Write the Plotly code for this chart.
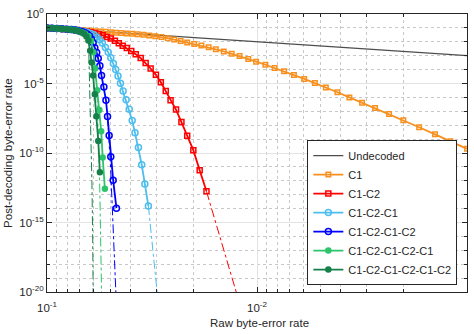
import plotly.graph_objects as go

# ---------------- data ----------------
undecoded_x = [1e-1, 1e-3]
undecoded_y = [1e-1, 1e-3]

c1_x = [0.1, 0.0956, 0.0914, 0.0872, 0.0832, 0.0793, 0.0756, 0.0719, 0.0684, 0.0650,
        0.0617, 0.0586, 0.0555, 0.0525, 0.0497, 0.0469, 0.0443, 0.0418, 0.0393, 0.0370,
        0.0347, 0.0326, 0.0305, 0.0285, 0.0266, 0.0248, 0.0231, 0.0215, 0.0199, 0.0184,
        0.0170, 0.0157, 0.0144, 0.0132, 0.0121, 0.0110, 0.0101, 0.00912, 0.00824, 0.00743,
        0.00667, 0.00596, 0.00530, 0.00470, 0.00414, 0.00363, 0.00316, 0.00274, 0.00235,
        0.00201, 0.00169, 0.00142, 0.00120, 0.00100]
c1_y = [1.00e-1, 9.55e-2, 9.12e-2, 8.71e-2, 8.32e-2, 7.94e-2, 7.59e-2, 7.24e-2, 6.84e-2, 6.46e-2,
        6.17e-2, 5.82e-2, 5.50e-2, 5.19e-2, 4.90e-2, 4.57e-2, 4.32e-2, 4.03e-2, 3.72e-2, 3.47e-2,
        3.16e-2, 2.82e-2, 2.51e-2, 2.19e-2, 1.82e-2, 1.45e-2, 1.15e-2, 8.91e-3, 6.92e-3, 5.37e-3,
        3.98e-3, 2.88e-3, 2.04e-3, 1.38e-3, 9.33e-4, 5.89e-4, 3.72e-4, 2.24e-4, 1.32e-4, 7.59e-5,
        4.07e-5, 2.14e-5, 1.07e-5, 5.13e-6, 2.34e-6, 1.00e-6, 4.17e-7, 1.70e-7, 6.31e-8,
        2.24e-8, 7.08e-9, 2.19e-9, 7.08e-10, 2.00e-10]

c1c2_x = [0.1, 0.0957, 0.0916, 0.0877, 0.0839, 0.0804, 0.0769, 0.0736, 0.0705, 0.0675,
          0.0646, 0.0618, 0.0592, 0.0566, 0.0542, 0.0519, 0.0497, 0.0475, 0.0455, 0.0436,
          0.0417, 0.0397, 0.0378, 0.0358, 0.0339, 0.0321, 0.0303, 0.0287, 0.0272, 0.0258,
          0.0243, 0.0229, 0.0215, 0.0201, 0.01875, 0.0174]
c1c2_y = [9.92e-2, 9.60e-2, 9.14e-2, 8.77e-2, 8.43e-2, 8.03e-2, 7.64e-2, 7.05e-2, 6.50e-2, 5.99e-2,
          5.48e-2, 4.93e-2, 4.33e-2, 3.62e-2, 2.92e-2, 2.25e-2, 1.71e-2, 1.18e-2, 7.96e-3, 5.30e-3,
          3.53e-3, 2.17e-3, 1.27e-3, 6.71e-4, 3.03e-4, 1.20e-4, 4.22e-5, 1.22e-5, 2.83e-6, 6.34e-7,
          1.33e-7, 1.68e-8, 1.73e-9, 1.60e-10, 5.79e-12, 1.75e-13]
c1c2_ext_x = [0.0174, 0.0161, 0.0148, 0.01365, 0.01256]
c1c2_ext_y = [1.75e-13, 3.0e-15, 4.73e-17, 7.46e-19, 1e-20]

c1c2c1_x = [0.1, 0.0947, 0.0897, 0.0849, 0.0804, 0.0761, 0.0728, 0.0697, 0.0667, 0.0642,
            0.0618, 0.0598, 0.0579, 0.0561, 0.0545, 0.0527, 0.0511, 0.0497, 0.0483, 0.0471,
            0.0459, 0.0447, 0.0434, 0.0420, 0.0406, 0.0393, 0.0381, 0.0367, 0.0354, 0.0342, 0.0329]
c1c2c1_y = [9.92e-2, 9.45e-2, 9.00e-2, 8.57e-2, 8.03e-2, 7.52e-2, 6.93e-2, 6.29e-2, 5.52e-2, 4.77e-2,
            3.92e-2, 3.18e-2, 2.26e-2, 1.41e-2, 8.23e-3, 3.96e-3, 1.75e-3, 7.16e-4, 2.79e-4, 1.02e-4,
            3.53e-5, 1.04e-5, 2.83e-6, 6.77e-7, 1.40e-7, 2.22e-8, 2.81e-9, 2.45e-10, 1.42e-11,
            5.94e-13, 1.53e-14]
c1c2c1_ext_x = [0.0329, 0.0319, 0.0308, 0.0299]
c1c2c1_ext_y = [1.53e-14, 1.74e-16, 1.32e-18, 1e-20]

c1c2c1c2_x = [0.1, 0.0947, 0.0897, 0.0849, 0.0804, 0.0769, 0.0736, 0.0709, 0.0682, 0.0660,
              0.0642, 0.0628, 0.0615, 0.0603, 0.0592, 0.0580, 0.0570, 0.0560, 0.0550, 0.0536,
              0.0524, 0.0515, 0.0506, 0.0497, 0.0484, 0.0467]
c1c2c1c2_y = [9.92e-2, 9.45e-2, 9.00e-2, 8.57e-2, 8.03e-2, 7.52e-2, 6.93e-2, 6.29e-2, 5.43e-2, 4.54e-2,
              3.56e-2, 2.57e-2, 1.58e-2, 8.50e-3, 3.77e-3, 1.67e-3, 6.29e-4, 1.89e-4, 3.71e-5, 5.61e-6,
              6.34e-7, 4.26e-8, 1.81e-9, 5.38e-11, 1.08e-12, 1.07e-14]
c1c2c1c2_ext_x = [0.0515, 0.0507, 0.0498, 0.0489, 0.0479, 0.0470]
c1c2c1c2_ext_y = [4.26e-8, 1.25e-9, 9.44e-12, 1.41e-14, 9.29e-18, 1e-20]

c5_x = [0.1, 0.0947, 0.0897, 0.0849, 0.0804, 0.0769, 0.0740, 0.0712, 0.0686, 0.0660,
        0.0635, 0.0616, 0.0601, 0.0590, 0.0576, 0.0563, 0.0552, 0.0543, 0.0530]
c5_y = [9.92e-2, 9.45e-2, 9.00e-2, 8.57e-2, 8.03e-2, 7.52e-2, 6.93e-2, 6.19e-2, 5.17e-2, 3.99e-2,
        2.65e-2, 1.14e-2, 1.75e-3, 1.20e-4, 3.23e-6, 1.25e-7, 3.71e-9, 4.81e-11, 2.63e-13]
c5_ext_x = [0.0578, 0.0569, 0.0562, 0.0556, 0.0550]
c5_ext_y = [1.89e-6, 2.81e-9, 1.86e-12, 2.41e-16, 1e-20]

c6_x = [0.1, 0.0957, 0.0916, 0.0877, 0.0839, 0.0804, 0.0769, 0.0740, 0.0712, 0.0690,
        0.0667, 0.0649, 0.0635, 0.0623, 0.0613, 0.0603, 0.0592, 0.0582, 0.0570, 0.0560]
c6_y = [9.92e-2, 9.60e-2, 9.29e-2, 8.85e-2, 8.43e-2, 7.90e-2, 7.40e-2, 6.71e-2, 5.89e-2, 4.93e-2,
        3.74e-2, 2.45e-2, 1.24e-2, 2.24e-3, 3.28e-4, 3.71e-5, 1.68e-6, 4.47e-8, 7.28e-10, 4.19e-12]
c6_ext_x = [0.0632, 0.0625, 0.0618, 0.0611, 0.0606, 0.0603]
c6_ext_y = [1.27e-3, 1.89e-6, 2.81e-9, 8.22e-13, 1.07e-16, 1e-20]

x_tick_vals = [1e-1, 1e-2, 1e-3]
x_tick_text = ["10<sup>-1</sup>", "10<sup>-2</sup>", "10<sup>-3</sup>"]
y_tick_vals = [1, 1e-5, 1e-10, 1e-15, 1e-20]
y_tick_text = ["10<sup>0</sup>", "10<sup>-5</sup>", "10<sup>-10</sup>", "10<sup>-15</sup>", "10<sup>-20</sup>"]

# ---------------- styling ----------------
FONT = "Helvetica, Liberation Sans, Arial, sans-serif"
COL = {
    "und": "#4d4d4d",
    "c1": "#F7901E",
    "c2": "#FF0000",
    "c3": "#4DBEEE",
    "c4": "#0000FF",
    "c5": "#2DC46B",
    "c6": "#17804A",
}

fig = go.Figure()

fig.add_trace(go.Scatter(x=undecoded_x, y=undecoded_y, mode="lines", name="Undecoded",
                         line=dict(color=COL["und"], width=1.3)))

def ext(xs, ys, color):
    fig.add_trace(go.Scatter(x=xs, y=ys, mode="lines", showlegend=False, hoverinfo="skip",
                             line=dict(color=color, width=1, dash="dashdot")))

series = [
    ("C1", c1_x, c1_y, None, None, COL["c1"], "square-open", 4.5),
    ("C1-C2", c1c2_x, c1c2_y, c1c2_ext_x, c1c2_ext_y, COL["c2"], "square-open", 5),
    ("C1-C2-C1", c1c2c1_x, c1c2c1_y, c1c2c1_ext_x, c1c2c1_ext_y, COL["c3"], "circle-open", 6),
    ("C1-C2-C1-C2", c1c2c1c2_x, c1c2c1c2_y, c1c2c1c2_ext_x, c1c2c1c2_ext_y, COL["c4"], "circle-open", 6),
    ("C1-C2-C1-C2-C1", c5_x, c5_y, c5_ext_x, c5_ext_y, COL["c5"], "circle", 5),
    ("C1-C2-C1-C2-C1-C2", c6_x, c6_y, c6_ext_x, c6_ext_y, COL["c6"], "circle", 5),
]

for name, xs, ys, ex, ey, color, sym, size in series:
    if ex is not None:
        ext(ex, ey, color)
    fig.add_trace(go.Scatter(
        x=xs, y=ys, mode="lines+markers", name=name,
        line=dict(color=color, width=1.8),
        marker=dict(symbol=sym, size=size, color=color, line=dict(color=color, width=1.5)),
    ))

axis_common = dict(
    showline=True, linecolor="#262626", linewidth=1, mirror="allticks",
    ticks="inside", tickcolor="#262626", ticklen=5, tickwidth=1,
    showgrid=True, gridcolor="#e3e3e3", gridwidth=1, zeroline=False,
    tickfont=dict(family=FONT, size=11.5, color="#262626"),
)

x_minor = [9e-2, 8e-2, 7e-2, 6e-2, 5e-2, 4e-2, 3e-2, 2e-2,
           9e-3, 8e-3, 7e-3, 6e-3, 5e-3, 4e-3, 3e-3, 2e-3]
y_minor = [1e-1, 1e-2, 1e-3, 1e-4, 1e-6, 1e-7, 1e-8, 1e-9, 1e-11, 1e-12, 1e-13, 1e-14,
           1e-16, 1e-17, 1e-18, 1e-19]

fig.update_xaxes(type="log", range=[-1, -3], tickvals=x_tick_vals, ticktext=x_tick_text,
                 ticklabelstandoff=5,
                 minor=dict(tickvals=x_minor, ticks="inside", ticklen=3, tickcolor="#262626",
                            showgrid=True, gridcolor="#c8c8c8", griddash="dot", gridwidth=1),
                 **axis_common)
fig.update_yaxes(type="log", range=[-20, 0], tickvals=y_tick_vals, ticktext=y_tick_text,
                 minor=dict(tickvals=y_minor, ticks="inside", ticklen=3, tickcolor="#262626",
                            showgrid=True, gridcolor="#c8c8c8", griddash="dot", gridwidth=1),
                 **axis_common)

fig.update_layout(
    width=474, height=334,
    margin=dict(l=47, r=6, t=9, b=42),
    paper_bgcolor="white", plot_bgcolor="white",
    font=dict(family=FONT, size=11, color="#262626"),
    showlegend=True,
    legend=dict(x=0.977, y=0.025, xanchor="right", yanchor="bottom",
                bgcolor="white", bordercolor="#262626", borderwidth=1,
                font=dict(family=FONT, size=11, color="#262626"),
                tracegroupgap=0, itemwidth=30, entrywidth=130, entrywidthmode="pixels"),
    annotations=[
        dict(text="Raw byte-error rate", xref="paper", yref="paper", x=0.506, y=-0.11,
             xanchor="center", yanchor="middle", showarrow=False,
             font=dict(family=FONT, size=11.5, color="#262626")),
        dict(text="Post-decoding byte-error rate", xref="paper", yref="paper", x=-0.093, y=0.5,
             xanchor="center", yanchor="middle", textangle=-90, showarrow=False,
             font=dict(family=FONT, size=11.5, color="#262626")),
    ],
)

fig.write_html("out.html")
